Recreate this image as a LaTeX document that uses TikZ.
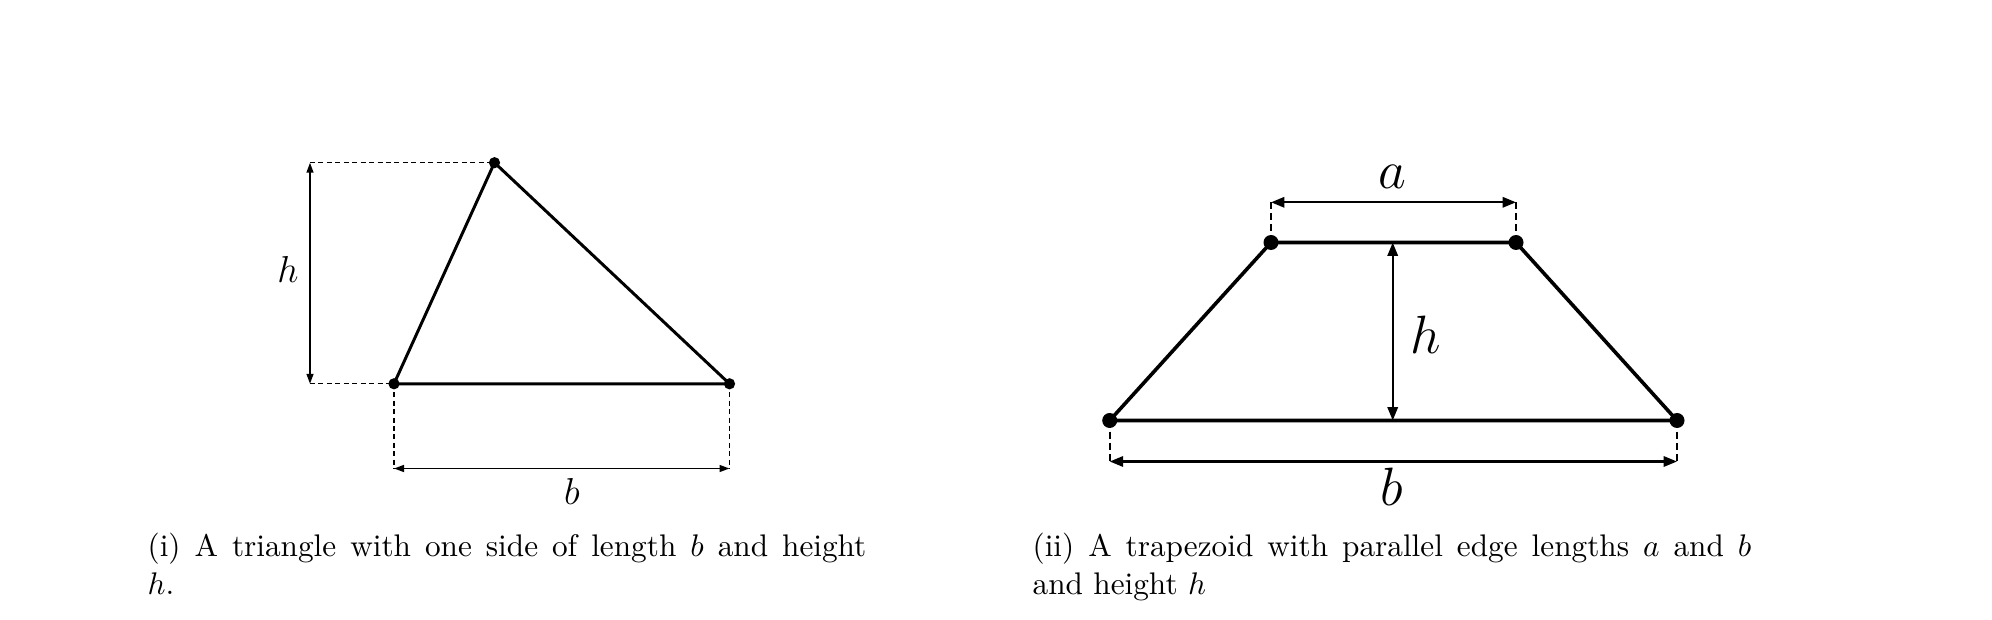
\documentclass[tikz,border=0pt]{standalone}
\usetikzlibrary{arrows.meta}
\begin{document}
\begin{tikzpicture}[x=0.32pt,y=-0.32pt,
  tdot/.style={circle,fill=black,inner sep=0pt,minimum size=3.6pt},
  zdot/.style={circle,fill=black,inner sep=0pt,minimum size=4.8pt},
  tedge/.style={line width=0.95pt},
  zedge/.style={line width=1.15pt},
  tdash/.style={dash pattern=on 1.6pt off 1.1pt,line width=0.35pt},
  zdash/.style={dash pattern=on 2.2pt off 1.4pt,line width=0.7pt},
  tarrow/.style={{Triangle[length=3.2pt,width=2.2pt]}-{Triangle[length=3.2pt,width=2.2pt]},line width=0.55pt},
  zarrow/.style={{Triangle[length=4.3pt,width=3.3pt]}-{Triangle[length=4.3pt,width=3.3pt]},line width=0.75pt},
  tlabel/.style={font=\fontsize{12}{14}\selectfont,inner sep=0pt},
  zlabel/.style={font=\fontsize{18}{20}\selectfont,inner sep=0pt},
  caption/.style={anchor=base west,inner sep=0pt}
]
\useasboundingbox (0,0) rectangle (1992,620);

% ---- triangle ----
\coordinate (T) at (494.5,162.7);
\coordinate (L) at (394,383.8);
\coordinate (R) at (729.5,383.8);
\coordinate (hT) at (310,162.7);
\coordinate (hB) at (310,383.8);
\coordinate (bL) at (394,468.5);
\coordinate (bR) at (729.5,468.5);
\draw[tedge,line join=round] (L) -- (T) -- (R) -- cycle;
\draw[tdash] (hT) -- (T);
\draw[tdash] (hB) -- (L);
\draw[tdash] (L) -- (bL);
\draw[tdash] (R) -- (bR);
\draw[tarrow] (hT) -- (hB);
\draw[tarrow] (bL) -- (bR);
\node[tdot] (Td) at (T) {};
\node[tdot] (Ld) at (L) {};
\node[tdot] (Rd) at (R) {};
\node[tlabel] (th) at (288,269) {$h$};
\node[tlabel] (tb) at (572,491) {$b$};

% ---- trapezoid ----
\coordinate (TL) at (1271,242.5);
\coordinate (TR) at (1516,242.5);
\coordinate (BL) at (1109.7,420.5);
\coordinate (BR) at (1677,420.5);
\coordinate (aL) at (1271,202.3);
\coordinate (aR) at (1516,202.3);
\coordinate (hzT) at (1392.7,242.5);
\coordinate (hzB) at (1392.7,420.5);
\coordinate (bzL) at (1109.7,461.5);
\coordinate (bzR) at (1677,461.5);
\draw[zedge,line join=round] (BL) -- (TL) -- (TR) -- (BR) -- cycle;
\draw[zdash] (TL) -- (aL);
\draw[zdash] (TR) -- (aR);
\draw[zdash] (BL) -- (bzL);
\draw[zdash] (BR) -- (bzR);
\draw[zarrow] (aL) -- (aR);
\draw[zarrow] (hzT) -- (hzB);
\draw[zarrow] (bzL) -- (bzR);
\node[zdot] (TLd) at (TL) {};
\node[zdot] (TRd) at (TR) {};
\node[zdot] (BLd) at (BL) {};
\node[zdot] (BRd) at (BR) {};
\node[zlabel] (za) at (1392.7,177) {$a$};
\node[zlabel] (zh) at (1426,335) {$h$};
\node[zlabel] (zb) at (1392,487) {$b$};

% ---- captions ----
\node[caption] (capA) at (147,556.7) {\parbox[t]{230pt}{(i) A triangle with one side of length $b$ and height\linebreak $h$.}};
\node[caption] (capB) at (1032,556.7) {\parbox[t]{230pt}{(ii) A trapezoid with parallel edge lengths $a$ and $b$\linebreak and height $h$}};
\end{tikzpicture}
\end{document}
